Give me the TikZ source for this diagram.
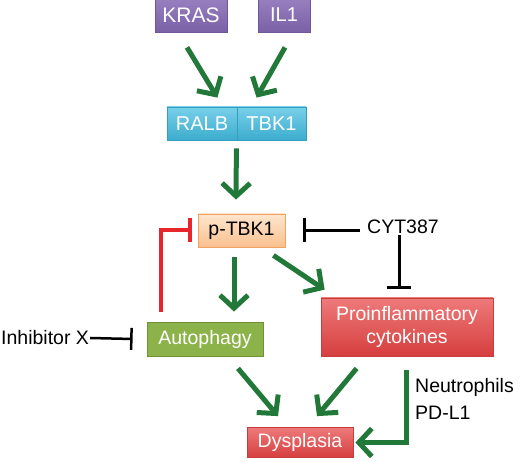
\documentclass[tikz,border=0pt]{standalone}
\usepackage{fontspec}
\setmainfont{Liberation Sans}
\usetikzlibrary{arrows.meta}

\definecolor{arrgreen}{RGB}{34,120,56}
\definecolor{inhred}{RGB}{230,38,42}

\tikzset{
  box/.style={rectangle,draw,line width=0.8pt,inner sep=0pt,text=white,
    font=\fontsize{20}{23}\selectfont},
  txt/.style={inner sep=1pt,font=\fontsize{19.5}{23}\selectfont},
  grarrow/.style={arrgreen,line width=5pt,-{Straight Barb[length=13pt,width=28pt]}},
  blkbar/.style={black,line width=3pt,-{Bar[width=24pt]}},
  redbar/.style={inhred,line width=4pt,-{Bar[width=24pt]}}
}

\begin{document}
\begin{tikzpicture}[x=1pt,y=-1pt]
    \useasboundingbox (0,0) rectangle (520,462);

    % upstream signals
    \node[box,draw={rgb,255:red,112;green,88;blue,150},top color={rgb,255:red,152;green,128;blue,192},bottom color={rgb,255:red,122;green,96;blue,166},minimum width=72pt,minimum height=34pt,font=\fontsize{21}{23}\selectfont] (kras) at (191,15) {KRAS}; %purple
    \node[box,draw={rgb,255:red,112;green,88;blue,150},top color={rgb,255:red,152;green,128;blue,192},bottom color={rgb,255:red,122;green,96;blue,166},minimum width=52pt,minimum height=34pt] (il1) at (284,15) {IL1}; %purple

    % RALB / TBK1 complex
    \node[box,draw={rgb,255:red,52;green,158;blue,190},top color={rgb,255:red,120;green,208;blue,234},bottom color={rgb,255:red,60;green,172;blue,206},minimum width=70pt,minimum height=33pt] (ralb) at (202,123.5) {RALB}; %cyan
    \node[box,draw={rgb,255:red,52;green,158;blue,190},top color={rgb,255:red,120;green,208;blue,234},bottom color={rgb,255:red,60;green,172;blue,206},minimum width=69pt,minimum height=33pt] (tbk) at (271.5,123.5) {TBK1}; %cyan

    \draw[grarrow] ([xshift=-4pt,yshift=-15pt]kras.south) -- ([xshift=-20pt,yshift=9pt]ralb.north east);
    \draw[grarrow] ([xshift=1pt,yshift=-15pt]il1.south) -- ([xshift=20pt,yshift=9pt]tbk.north west);

    %%%%%%%%%%%%%%%%%%%%%%%%%%%%%%%%%%%%%%%%%%%%%%%%%%%%%%

    % phosphorylated TBK1
    \node[box,text=black,draw={rgb,255:red,244;green,160;blue,96},top color={rgb,255:red,253;green,230;blue,206},bottom color={rgb,255:red,250;green,192;blue,142},minimum width=87pt,minimum height=33pt,font=\fontsize{19.5}{23}\selectfont] (ptbk) at (241.5,230.5) {p-TBK1}; %orange
    \draw[grarrow] ([xshift=-1pt,yshift=-8pt]ralb.south east) -- ([xshift=-5.5pt,yshift=14pt]ptbk.north);

    % drug
    \node[txt] (cyt) at (403,227) {CYT387};
    \draw[blkbar] ([xshift=-6pt]cyt.west |- ptbk.east) -- ([xshift=18pt]ptbk.east);

    %%%%%%%%%%%%%%%%%%%%%%%%%%%%%%%%%%%%%%%%%%%%%%%%%%%%%%

    % autophagy
    \node[box,draw={rgb,255:red,112;green,144;blue,54},fill={rgb,255:red,140;green,178;blue,74},minimum width=116pt,minimum height=34pt,font=\fontsize{19.5}{23}\selectfont] (auto) at (205,339) {Autophagy}; %green
    \draw[grarrow] ([xshift=-7.5pt,yshift=-10pt]ptbk.south) -- ([xshift=29pt,yshift=10pt]auto.north);
    \draw[redbar] ([xshift=14pt,yshift=10pt]auto.north west) |- ([xshift=-6pt]ptbk.west);

    % inhibitor
    \node[txt,anchor=west] (inhx) at (0,338) {Inhibitor X};
    \draw[blkbar,line width=2.5pt,-{Bar[width=22pt]}] (inhx.east) -- ([xshift=-14pt]auto.west);

    % cytokines
    \node[box,align=center,draw={rgb,255:red,200;green,60;blue,60},top color={rgb,255:red,238;green,122;blue,122},bottom color={rgb,255:red,214;green,62;blue,62},minimum width=172pt,minimum height=58pt,font=\fontsize{19.5}{23}\selectfont] (proinf) at (407,327) {Proinflammatory\\cytokines}; %red
    \draw[grarrow] ([xshift=-12pt,yshift=-8pt]ptbk.south east) -- ([xshift=4pt,yshift=8pt]proinf.north west);
    \draw[blkbar] ([xshift=-4pt]cyt.south) -- ([xshift=-8pt,yshift=9pt]proinf.north);

    %%%%%%%%%%%%%%%%%%%%%%%%%%%%%%%%%%%%%%%%%%%%%%%%%%%%%%

    % dysplasia
    \node[box,draw={rgb,255:red,200;green,60;blue,60},top color={rgb,255:red,238;green,122;blue,122},bottom color={rgb,255:red,214;green,62;blue,62},minimum width=106pt,minimum height=30pt,font=\fontsize{19.5}{23}\selectfont] (dysp) at (300,442.5) {Dysplasia}; %red
    \draw[grarrow] ([xshift=33pt,yshift=-12pt]auto.south) -- ([xshift=-22pt,yshift=11pt]dysp.north);
    \draw[grarrow] ([xshift=36pt,yshift=-12pt]proinf.south west) -- ([xshift=17pt,yshift=11pt]dysp.north);

    % mediators
    \node[txt,anchor=west,align=left,font=\fontsize{19.5}{27}\selectfont] (neut) at (414,398.5) {Neutrophils\\PD-L1};
    \draw[grarrow] ([xshift=-1pt,yshift=-14pt]proinf.south) |- ([xshift=2pt]dysp.east);

\end{tikzpicture}
\end{document}
